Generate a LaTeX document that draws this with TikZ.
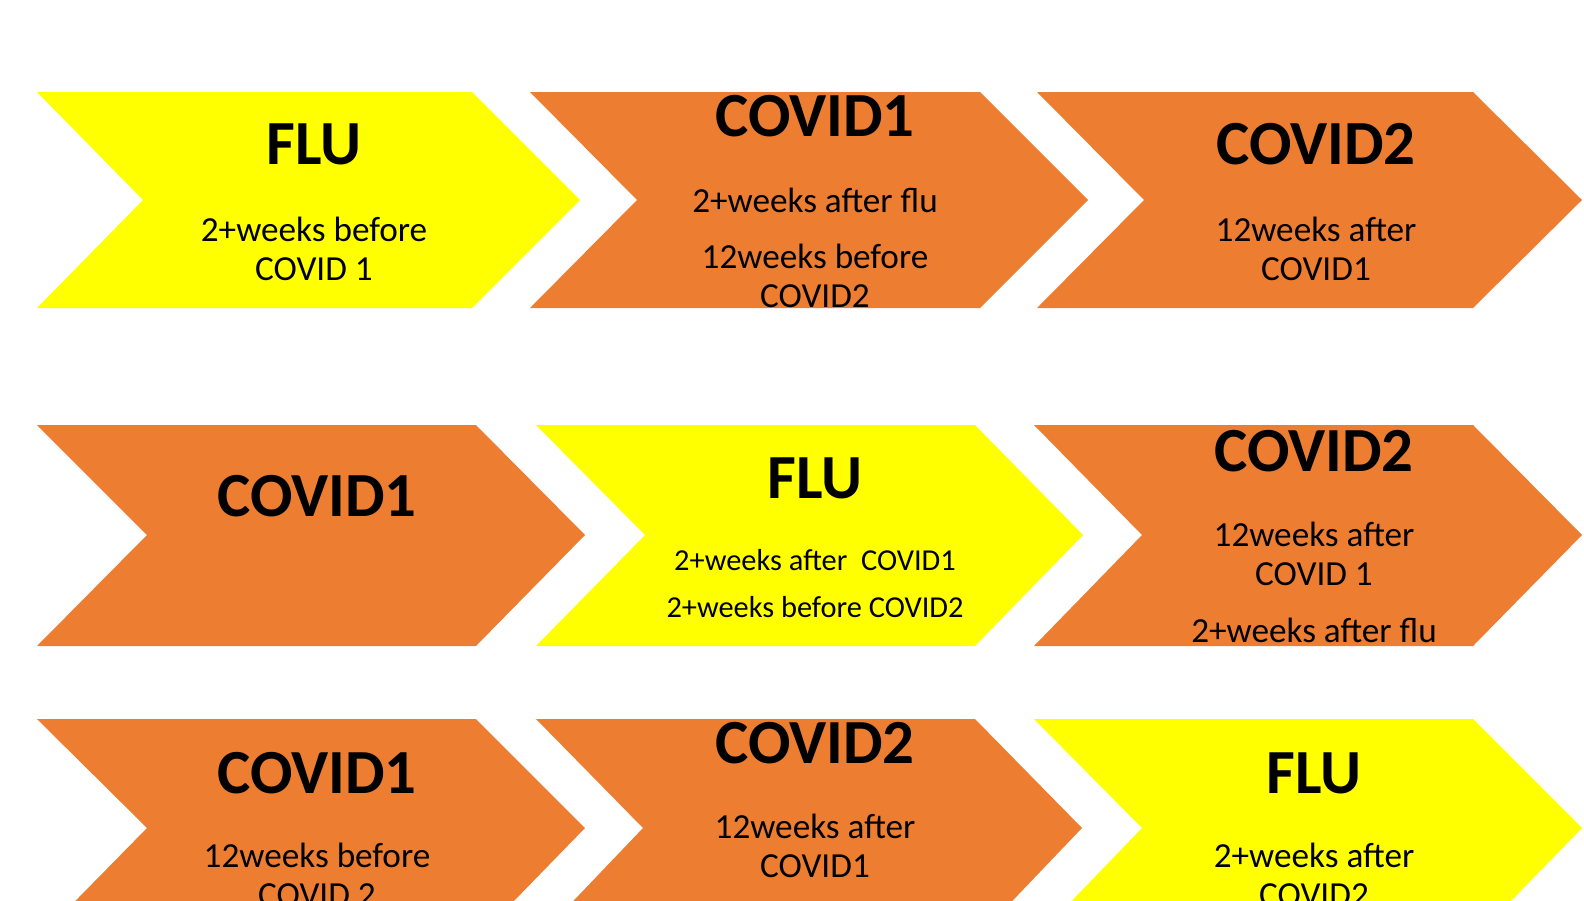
\documentclass[tikz,border=0pt]{standalone}
\usepackage{fontspec}
\setmainfont{Carlito}
\usepackage{tikz}

\definecolor{chevorange}{HTML}{ED7D31}
\definecolor{chevyellow}{HTML}{FFFF00}

\begin{document}
\begin{tikzpicture}[x=0.5pt,y=-0.5pt,
  orangechev/.style={fill=chevorange},
  yellowchev/.style={fill=chevyellow},
  title/.style={anchor=base,inner sep=0pt,font=\fontsize{31.4}{37}\selectfont\bfseries},
  body/.style={anchor=base,inner sep=0pt,font=\fontsize{17.6}{19.7}\selectfont},
  smallbody/.style={anchor=base,inner sep=0pt,font=\fontsize{15.2}{18}\selectfont}]
  \useasboundingbox (0,0) rectangle (1584,900);
  \clip (0,0) rectangle (1584,900);

  % first row: flu, covid1, covid2
  \fill[yellowchev] (37,92) -- (472,92) -- (580,200) -- (472,308) -- (37,308) -- (143,200) -- cycle;
  \fill[orangechev] (530,92) -- (980,92) -- (1088,200) -- (980,308) -- (530,308) -- (637,200) -- cycle;
  \fill[orangechev] (1037,92) -- (1473,92) -- (1582,200) -- (1473,308) -- (1037,308) -- (1144,200) -- cycle;

  \node[title] (fluA) at (314,164) {FLU};
  \node[body] (fluAtxt) at (314,241)
  {\begin{tabular}[t]{@{}c@{}}2+weeks before\\COVID 1\end{tabular}};
  \node[title] (covOneA) at (815,136) {COVID1};
  \node[body] (covOneAtxt) at (815,212) {2+weeks after flu};
  \node[body] (covOneAtxtb) at (815,268)
  {\begin{tabular}[t]{@{}c@{}}12weeks before\\COVID2\end{tabular}};
  \node[title] (covTwoA) at (1316,164) {COVID2};
  \node[body] (covTwoAtxt) at (1316,241)
  {\begin{tabular}[t]{@{}c@{}}12weeks after\\COVID1\end{tabular}};

  % second row: covid1, flu, covid2
  \fill[orangechev] (37,425) -- (476,425) -- (585,535) -- (476,646) -- (37,646) -- (147,535) -- cycle;
  \fill[yellowchev] (536,425) -- (975,425) -- (1083,535) -- (975,646) -- (536,646) -- (645,535) -- cycle;
  \fill[orangechev] (1034,425) -- (1473,425) -- (1582,535) -- (1473,646) -- (1034,646) -- (1142,535) -- cycle;

  \node[title] (covOneB) at (317,516) {COVID1};
  \node[title] (fluB) at (815,498) {FLU};
  \node[smallbody] (fluBtxt) at (815,570) {2+weeks after\ \ COVID1};
  \node[smallbody] (fluBtxtb) at (815,617) {2+weeks before COVID2};
  \node[title] (covTwoB) at (1314,471) {COVID2};
  \node[body] (covTwoBtxt) at (1314,546)
  {\begin{tabular}[t]{@{}c@{}}12weeks after\\COVID 1\end{tabular}};
  \node[body] (covTwoBtxtb) at (1314,642) {2+weeks after flu};

  % third row: covid1, covid2, flu (runs off the bottom edge)
  \fill[orangechev] (37,719) -- (476,719) -- (585,828) -- (476,940) -- (37,940) -- (147,828) -- cycle;
  \fill[orangechev] (536,719) -- (975,719) -- (1082,828) -- (975,940) -- (536,940) -- (643,828) -- cycle;
  \fill[yellowchev] (1034,719) -- (1473,719) -- (1582,828) -- (1473,940) -- (1034,940) -- (1142,828) -- cycle;

  \node[title] (covOneC) at (317,793) {COVID1};
  \node[body] (covOneCtxt) at (317,867)
  {\begin{tabular}[t]{@{}c@{}}12weeks before\\COVID 2\end{tabular}};
  \node[title] (covTwoC) at (815,763) {COVID2};
  \node[body] (covTwoCtxt) at (815,838)
  {\begin{tabular}[t]{@{}c@{}}12weeks after\\COVID1\end{tabular}};
  \node[title] (fluC) at (1314,793) {FLU};
  \node[body] (fluCtxt) at (1314,867)
  {\begin{tabular}[t]{@{}c@{}}2+weeks after\\COVID2\end{tabular}};
\end{tikzpicture}
\end{document}
